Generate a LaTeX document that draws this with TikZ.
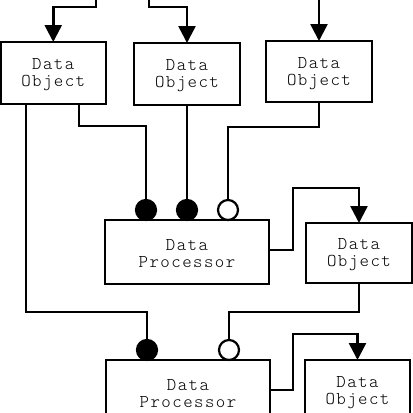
\documentclass[tikz,border=0pt]{standalone}
\usepackage{fontspec}
\newfontfamily\dofont{lmmonolt10-regular.otf}[LetterSpace=8]
\usetikzlibrary{arrows.meta}
\begin{document}
\begin{tikzpicture}[x=1pt,y=-1pt,
  line width=2.5pt,
  box/.style={draw, rectangle, inner sep=0pt, outer sep=0pt},
  dobj/.style={box, minimum width=106pt, minimum height=62pt},
  dproc/.style={box, minimum width=164pt, minimum height=64pt},
  txt/.style={align=center, inner sep=0pt, yshift=-2pt,
    font=\dofont\fontsize{18}{17}\selectfont},
  pin/.style={draw, circle, inner sep=0pt, outer sep=0pt, minimum size=20pt, line width=2.2pt},
  fullpin/.style={pin, fill=black},
  openpin/.style={pin, fill=white},
  conn/.style={line join=miter},
  arr/.style={conn, -{Triangle[width=17pt,length=17pt]}}
]
\useasboundingbox (0,0) rectangle (413,413);

\node[dobj, minimum width=105.5pt] (do1) at (53.25,73) {};
\node[dobj] (do2) at (187,74) {};
\node[dobj, minimum height=61pt] (do3) at (319,71.5) {};
\node[dproc] (dp1) at (187,252) {};
\node[dobj, minimum height=60pt] (do4) at (359,253) {};
\node[dproc] (dp2) at (188,392) {};
\node[dobj, minimum width=105pt] (do5) at (357.5,391) {};

\node[txt] (l1) at (do1.center) {Data\\Object};
\node[txt] (l2) at (do2.center) {Data\\Object};
\node[txt] (l3) at (do3.center) {Data\\Object};
\node[txt] (l4) at (dp1.center) {Data\\Processor};
\node[txt] (l5) at (do4.center) {Data\\Object};
\node[txt] (l6) at (dp2.center) {Data\\Processor};
\node[txt] (l7) at (do5.center) {Data\\Object};

\node[fullpin] (c1) at (146,210) {};
\node[fullpin] (c2) at (187,210) {};
\node[openpin] (c3) at (228,210) {};
\node[fullpin] (c4) at (147,350) {};
\node[openpin] (c5) at (229,350) {};

\coordinate (t1) at (96,-3);
\coordinate (t2) at (149,-3);
\coordinate (t3) at (319,-3);

\draw[arr] (t1) -- (96,7) -- (53.25,7) -- (do1.north);
\draw[arr] (t2) -- (149,7) -- (187,7) -- (do2.north);
\draw[arr] (t3) -- (do3.north);

\draw[conn] (do1.south -| 26,0) -- (26,312) -- (147,312) -- (c4.north);
\draw[conn] (do1.south -| 79,0) -- (79,126) -- (146,126) -- (c1.north);
\draw[conn] (do2.south) -- (c2.north);
\draw[conn] (do3.south) -- (319,127) -- (228,127) -- (c3.north);

\draw[arr] (dp1.east |- 0,250) -- (293,250) -- (293,188) -- (359,188) -- (do4.north);
\draw[conn] (do4.south) -- (359,312) -- (229,312) -- (c5.north);
\draw[arr] (dp2.east |- 0,390) -- (293,390) -- (293,334) -- (357.5,334) -- (do5.north);
\end{tikzpicture}
\end{document}
